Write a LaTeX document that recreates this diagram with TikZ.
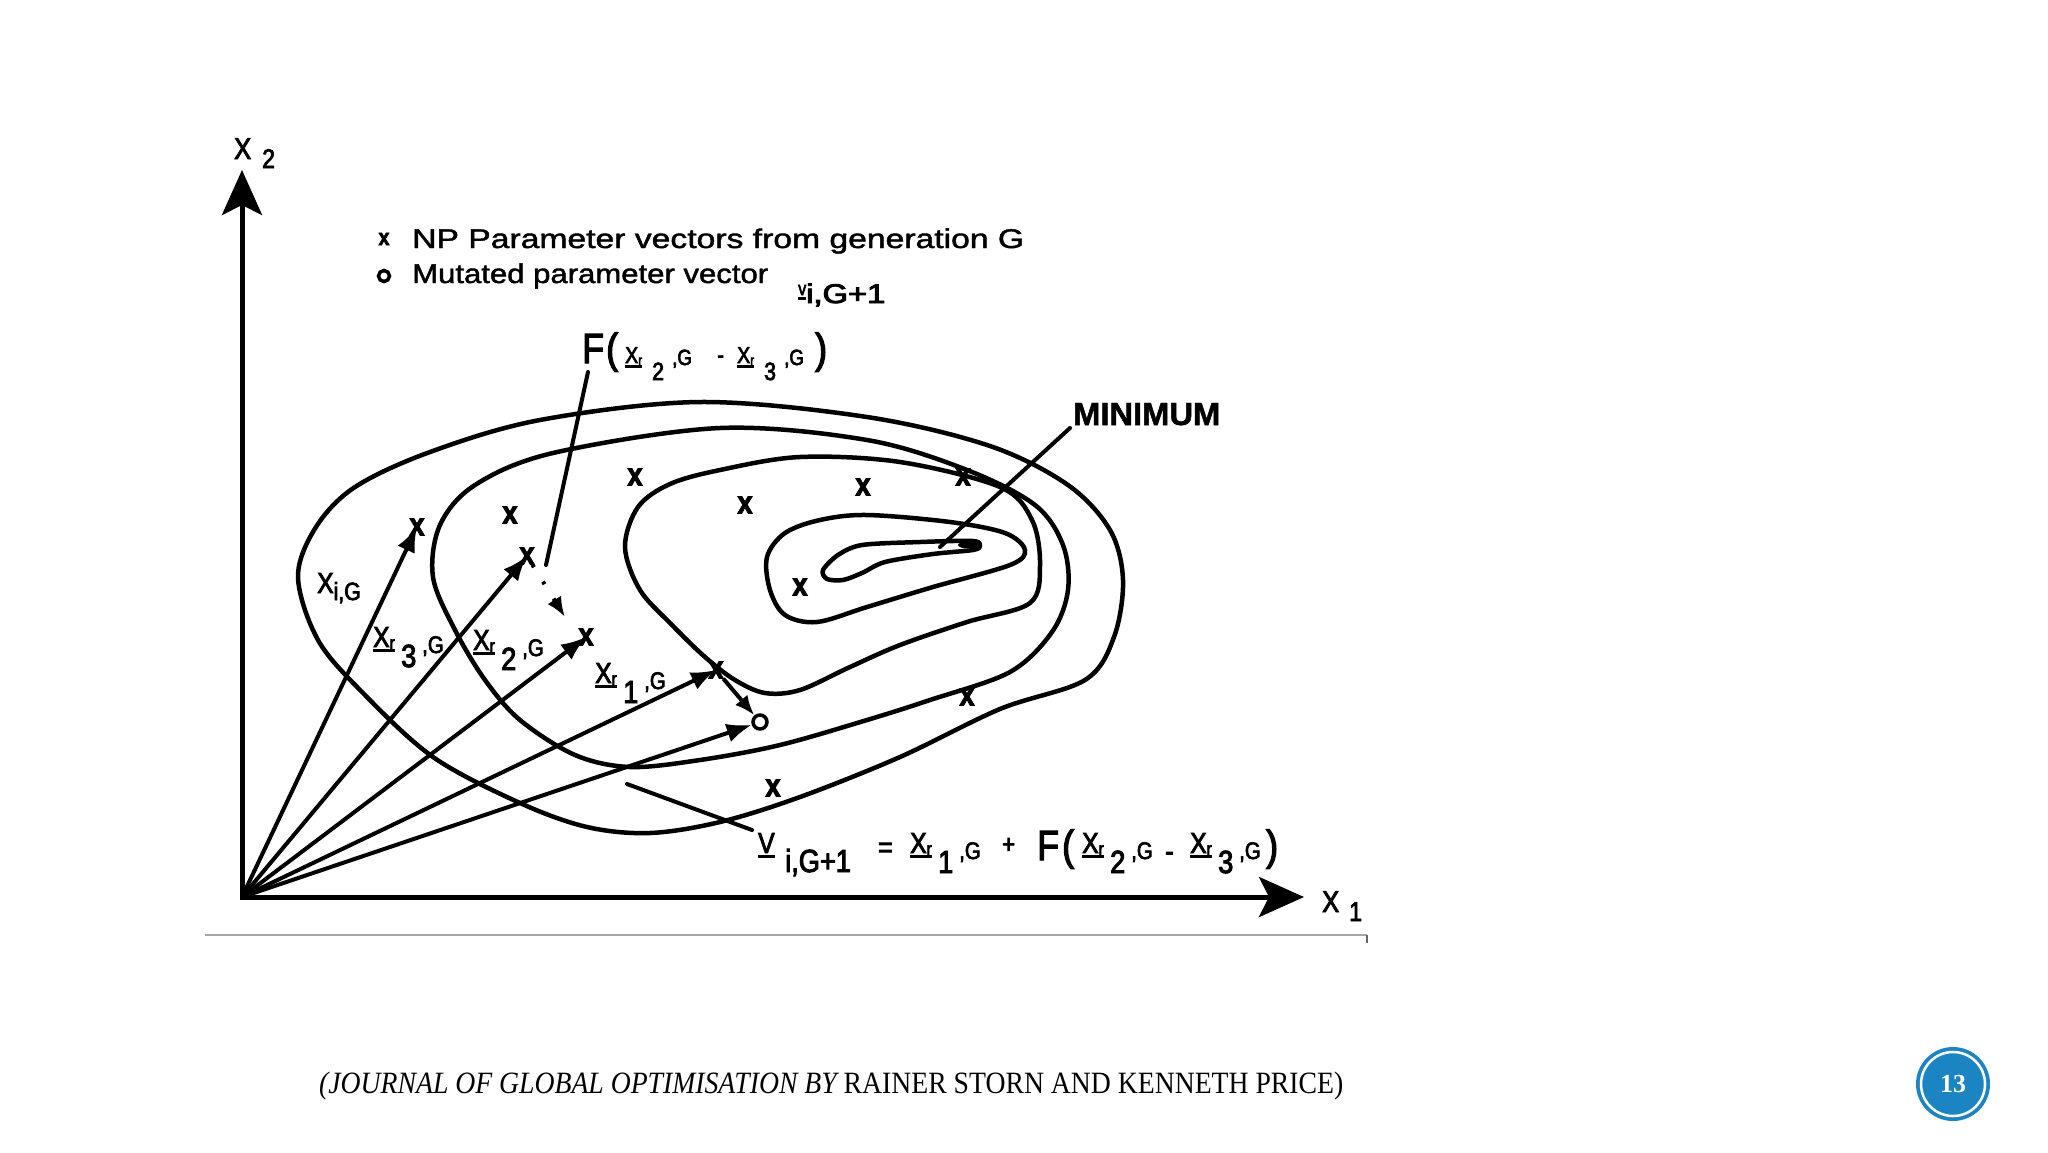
\documentclass[tikz,border=0pt]{standalone}
\usepackage{fontspec}
\usepackage{graphicx}
\usetikzlibrary{arrows.meta}
\newfontfamily\hv[FakeStretch=0.85, FakeBold=3]{Liberation Sans}
\newfontfamily\hvn[FakeBold=1.5]{Liberation Sans}
\newfontfamily\sertxt{Liberation Serif}
\definecolor{pgblue}{RGB}{27,133,196}
\newcommand\fs[1]{\fontsize{#1}{#1}\selectfont}
\newcommand\ulbox[1]{\setbox0\hbox{#1}\rlap{\rule[-4.5pt]{\wd0}{3pt}}\box0}
\newcommand\xrA[1]{\makebox[28pt][l]{\ulbox{\fs{29}X\raisebox{-2pt}{\fs{18}r}}}\makebox[21pt][l]{\raisebox{-20pt}{\fs{32}#1}}\raisebox{-6pt}{\fs{24},G}}
\newcommand\xrB[1]{\makebox[27pt][l]{\ulbox{\fs{23}X\raisebox{-2pt}{\fs{14}r}}}\makebox[20pt][l]{\raisebox{-17pt}{\fs{25}#1}}\raisebox{-2pt}{\fs{22},G}}
\begin{document}
\begin{tikzpicture}[x=1pt, y=-1pt,
  cline/.style={line width=4.5pt, line join=round},
  vec/.style={line width=4pt, -{Latex[length=25pt,width=19pt]}},
  axisln/.style={line width=5pt, line join=miter, {Stealth[length=45pt,width=40pt,inset=10pt]}-{Stealth[length=45pt,width=40pt,inset=10pt]}},
  leadln/.style={line width=4pt, line cap=round},
  xmk/.style={font=\hv\bfseries\fs{32}, inner sep=0pt},
  lab/.style={font=\hv, inner sep=0pt, anchor=base west},
]
\fill[white] (0,0) rectangle (2048,1152);
\useasboundingbox (0,0) rectangle (2048,1152);

% bottom rule
\coordinate (gl) at (205,935);
\coordinate (gr) at (1367,935);
\draw[line width=2pt, black!35] (gl) -- (gr);
\coordinate (tk) at (1367,943);
\draw[line width=1.5pt, black!60] (gr) -- (tk);

% axes
\coordinate (O) at (242,897);
\coordinate (Ytip) at (242,170);
\coordinate (Xtip) at (1304,897);
\draw[axisln] (Ytip) -- (O) -- (Xtip);
\node[lab] (ax2) at (234,159) {\fs{30}X\hspace{11pt}\raisebox{-9pt}{\fs{27}2}};
\node[lab] (ax1) at (1322,912) {\fs{30}X\hspace{10pt}\raisebox{-9pt}{\fs{27}1}};

% contours
\draw[cline] plot[smooth cycle, tension=0.55] coordinates {(298,577) (316,527) (355,487) (430,452) (540,420) (700,402) (867,417) (990,446) (1068,485) (1110,530) (1123,580) (1114,637) (1085,680) (1000,709) (900,757) (800,797) (720,822) (650,833) (587,827) (520,803) (433,757) (362,692) (318,640)};
\draw[cline] plot[smooth cycle, tension=0.55] coordinates {(433,577) (440,525) (475,485) (553,453) (720,428) (867,440) (967,470) (1035,505) (1063,545) (1068,590) (1052,632) (1010,672) (930,700) (867,720) (780,745) (700,760) (630,767) (575,755) (520,720) (485,680) (455,630)};
\draw[cline] plot[smooth cycle, tension=0.55] coordinates {(625,547) (638,507) (670,484) (720,470) (800,457) (900,462) (1000,487) (1032,520) (1040,565) (1030,603) (967,622) (900,645) (850,667) (800,690) (765,693) (735,680) (705,657) (672,625) (640,590)};
\draw[cline] plot[smooth cycle, tension=0.55] coordinates {(767,557) (785,533) (820,520) (867,515) (950,522) (1005,533) (1025,550) (1010,565) (933,587) (867,607) (817,622) (785,615) (770,590)};
\draw[cline] plot[smooth cycle, tension=0.5] coordinates {(823,570) (838,555) (862,545) (920,542) (973,541) (980,546) (973,550) (933,554) (885,562) (862,573) (843,580) (827,579)};
\fill (968,545) ellipse [x radius=10pt, y radius=3.5pt];

% population markers
\node[xmk] (m1) at (635,477) {x};
\node[xmk] (m2) at (510,515) {x};
\node[xmk] (m3) at (745,505) {x};
\node[xmk] (m4) at (863,487) {x};
\node[xmk] (m5) at (800,587) {x};
\node[xmk] (m6) at (963,477) {x};
\node[xmk] (m7) at (967,697) {x};
\node[xmk] (m8) at (773,788) {x};
\node[xmk] (pxi) at (417,527) {x};
\node[xmk] (pxr3) at (527,556) {x};
\node[xmk] (pxr2) at (586,637) {x};
\node[xmk] (pxr1) at (716,670) {x};
\node[draw, circle, line width=3.5pt, minimum size=14pt, inner sep=0pt] (vc) at (760,722) {};

% vectors
\draw[vec] (O) -- (pxi.center);
\draw[vec] (O) -- (pxr3.center);
\draw[vec] (O) -- (pxr2.center);
\draw[vec] (O) -- (pxr1.center);
\draw[vec] (O) -- (vc);
\draw[vec, -{Latex[length=20pt,width=16pt]}] (pxr1) -- (vc);
\coordinate (dtip) at (565,617);
\draw[line width=4pt, dash pattern=on 3pt off 17pt, -{Latex[length=20pt,width=16pt]}] (pxr3) -- (dtip);

% labels
\node[lab] (lxi) at (317,593) {\fs{29}X\raisebox{-7pt}{\fs{25}i,G}};
\node[lab] (lxr3) at (373,647) {\xrA{3}};
\node[lab] (lxr2) at (473,650) {\xrA{2}};
\node[lab] (lxr1) at (595,683) {\xrA{1}};

% legend
\node[xmk, font=\hv\bfseries\fs{23}] (lgx) at (384,239) {x};
\node[lab] (lg1) at (412,248) {\resizebox{612pt}{\height}{\hvn\fs{27}NP Parameter vectors from generation G}};
\node[draw, circle, line width=3.5pt, minimum size=11pt, inner sep=0pt] (lgo) at (384,276) {};
\node[lab] (lg2) at (412,283) {\resizebox{356pt}{\height}{\hvn\fs{27}Mutated parameter vector}};
\node[lab] (lgv) at (798,295) {\ulbox{\fs{19}v}\raisebox{-8pt}{\resizebox{79pt}{\height}{\fs{27}i,G+1}}};

% F label and its leader
\node[lab] (flab) at (582,363) {\makebox[24pt][l]{\fs{42}F}\makebox[19pt][l]{\fs{42}(}\makebox[92pt][l]{\xrB{2}}\makebox[20pt][l]{\fs{24}-}\makebox[78pt][l]{\xrB{3}}{\fs{42})}};
\coordinate (fA) at (588,372);
\coordinate (fB) at (546,565);
\draw[leadln] (fA) -- (fB);

% MINIMUM
\node[lab] (minlab) at (1073,425) {\resizebox{147pt}{\height}{\hvn\bfseries\fs{32}MINIMUM}};
\coordinate (mA) at (1070,428);
\coordinate (mB) at (940,547);
\draw[leadln] (mA) -- (mB);

% equation
\node[lab] (eq) at (758,853) {\makebox[27pt][l]{\ulbox{\fs{29}V}}\makebox[93pt][l]{\raisebox{-19pt}{\fs{32}i,G+1}}\makebox[32pt][l]{\raisebox{-4pt}{\fs{29}=}}\makebox[92pt][l]{\xrA{1}}\makebox[35pt][l]{\fs{26}+}\makebox[25pt][l]{\raisebox{-7pt}{\fs{42}F}}\makebox[20pt][l]{\raisebox{-7pt}{\fs{42}(}}\makebox[83pt][l]{\xrA{2}}\makebox[25pt][l]{\raisebox{-8pt}{\fs{29}-}}\makebox[76pt][l]{\xrA{3}}\raisebox{-7pt}{\fs{42})}};
\coordinate (vA) at (627,784);
\coordinate (vB) at (752,830);
\draw[leadln] (vA) -- (vB);

% citation
\node[inner sep=0pt, anchor=base west] (cit) at (319,1093) {\resizebox{1024pt}{\height}{\sertxt\fs{31}\itshape (JOURNAL OF GLOBAL OPTIMISATION BY \upshape RAINER STORN AND KENNETH PRICE)}};

% page number
\node[circle, fill=pgblue, minimum size=74pt, inner sep=0pt, text=white, font=\sertxt\bfseries\fs{26}] (pg) at (1953,1084) {13};
\draw[white, line width=2.5pt] (pg.center) circle[radius=32pt];
\end{tikzpicture}
\end{document}
